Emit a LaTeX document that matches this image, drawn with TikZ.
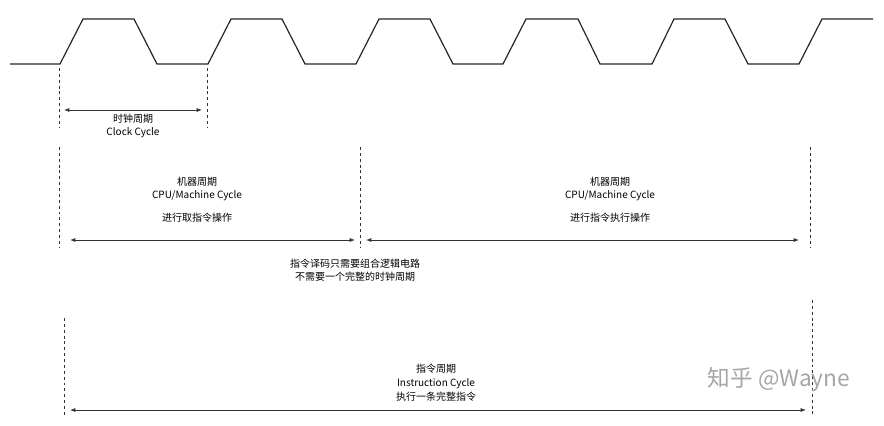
\documentclass[tikz,border=0pt]{standalone}
\usepackage{fontspec}
\setmainfont{Liberation Sans}
\newfontfamily\cjk{Noto Sans CJK SC}
\usetikzlibrary{arrows.meta}
\tikzset{
  lbl/.style={font=\cjk\fontsize{7.5}{9.5}\selectfont, align=center, inner sep=0pt},
  dsh/.style={dash pattern=on 2.2pt off 2.2pt, line width=0.6pt, black!80},
  dim/.style={{Latex[length=4pt,width=3pt]}-{Latex[length=4pt,width=3pt]}, line width=0.6pt, black!80},
  wave/.style={line width=0.9pt, black!85, line join=miter},
}
\begin{document}
\begin{tikzpicture}[x=0.75pt,y=-0.75pt]
\useasboundingbox (0,0) rectangle (884,425);
% clock
\draw[wave] (10,64) -- (60,64) -- (83,19) -- (134,19) -- (157,64) -- (208,64) -- (231,19) -- (282,19) -- (305,64) -- (356,64) -- (379,19) -- (430,19) -- (453,64) -- (503,64) -- (526,19) -- (578,19) -- (600,64) -- (652,64) -- (674,19) -- (725,19) -- (748,64) -- (799,64) -- (822,19) -- (873,19);
% clock cycle
\coordinate (c1t) at (59,68); \coordinate (c1b) at (59,128);
\coordinate (c2t) at (207,68); \coordinate (c2b) at (207,128);
\draw[dsh] (c1t) -- (c1b); \draw[dsh] (c2t) -- (c2b);
\coordinate (ca) at (64,110); \coordinate (cb) at (202,110);
\draw[dim] (ca) -- (cb);
\node[lbl] (clk) at (133,126) {时钟周期\\Clock Cycle};
% machine cycles
\coordinate (m1t) at (59,147); \coordinate (m1b) at (59,247);
\coordinate (m2t) at (360,147); \coordinate (m2b) at (360,247);
\coordinate (m3t) at (810,147); \coordinate (m3b) at (810,247);
\draw[dsh] (m1t) -- (m1b); \draw[dsh] (m2t) -- (m2b); \draw[dsh] (m3t) -- (m3b);
\coordinate (ma) at (70,240); \coordinate (mb) at (355,240);
\coordinate (mc) at (366,240); \coordinate (md) at (799,240);
\draw[dim] (ma) -- (mb);
\draw[dim] (mc) -- (md);
\node[lbl] (mc1) at (197,189) {机器周期\\CPU/Machine Cycle};
\node[lbl] (op1) at (197,218) {进行取指令操作};
\node[lbl] (mc2) at (610,189) {机器周期\\CPU/Machine Cycle};
\node[lbl] (op2) at (610,218) {进行指令执行操作};
\node[lbl] (note) at (355,270) {指令译码只需要组合逻辑电路\\不需要一个完整的时钟周期};
% instruction cycle
\coordinate (i1t) at (64,318); \coordinate (i1b) at (64,416);
\coordinate (i2t) at (812,300); \coordinate (i2b) at (812,416);
\draw[dsh,line width=0.5pt] (i1t) -- (i1b); \draw[dsh] (i2t) -- (i2b);
\coordinate (ia) at (70,410); \coordinate (ib) at (806,410);
\draw[dim] (ia) -- (ib);
\node[lbl, font=\cjk\fontsize{7.5}{10.5}\selectfont] (ic) at (436,383) {指令周期\\Instruction Cycle\\执行一条完整指令};
% watermark
\node[inner sep=0pt, text=black!35, font=\cjk\fontsize{17}{17}\selectfont] (wm) at (779,380) {知乎 @Wayne};
\end{tikzpicture}
\end{document}
